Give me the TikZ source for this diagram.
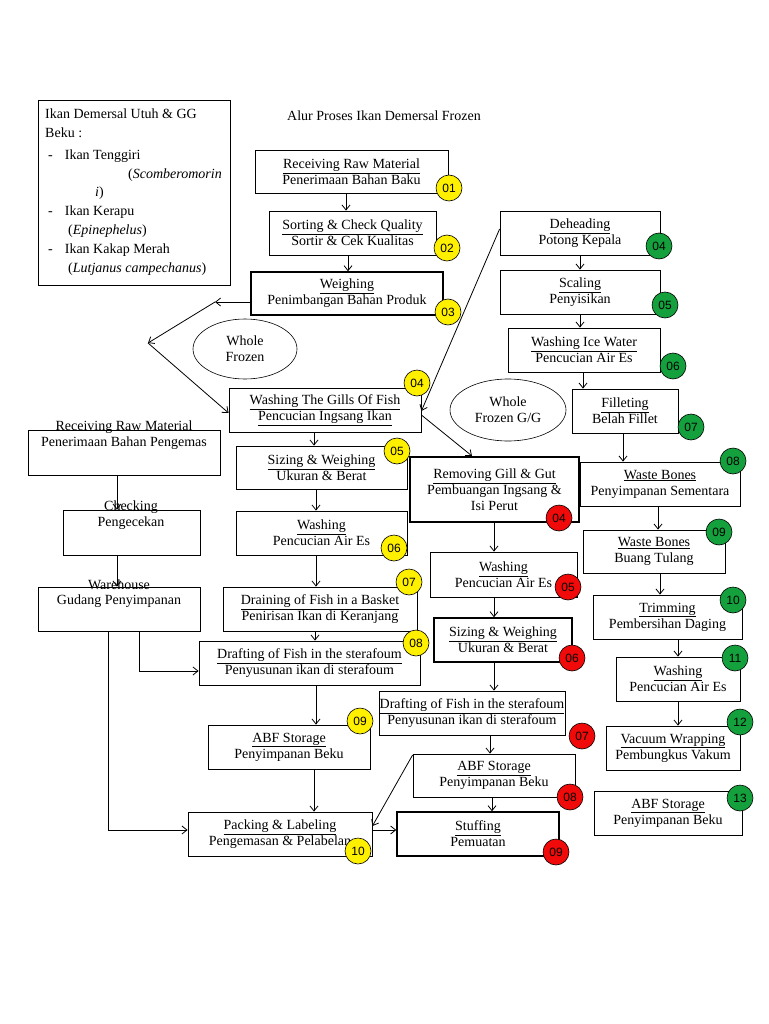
\documentclass[tikz,border=0pt]{standalone}
\usepackage{fontspec}
\setmainfont{Liberation Serif}
\setsansfont{Liberation Sans}
\usetikzlibrary{arrows.meta,shapes.geometric}
\definecolor{yel}{RGB}{255,240,0}
\definecolor{rd}{RGB}{240,10,10}
\definecolor{gr}{RGB}{20,160,60}
\newcommand\BX[7]{\node[box,#7,minimum width={#4pt-#2pt},minimum height={#5pt-#3pt}] (#1) at ({(#2+#4)/2},{(#3+#5)/2}) {#6};}
\newcommand\BG[4]{\node[badge,fill=#2] (#1) at (#3) {#4};}
\begin{document}
\begin{tikzpicture}[x=1pt,y=-1pt,
  box/.style={draw,line width=0.8pt,inner sep=0pt,align=center,font=\fontsize{14}{16}\selectfont},
  thk/.style={line width=1.5pt},
  badge/.style={circle,draw,line width=0.6pt,minimum size=26pt,inner sep=0pt,font=\sffamily\fontsize{12}{12}\selectfont},
  ar/.style={-{Straight Barb[length=5pt,width=8pt]},line width=0.8pt},
  lbl/.style={font=\fontsize{14}{16}\selectfont,inner sep=0pt}]
\useasboundingbox (0,0) rectangle (768,1024);
% legend
\BX{leg}{38}{100}{230}{285}{}{}
\node[lbl,anchor=west] (l1) at (45,114) {Ikan Demersal Utuh \& GG};
\node[lbl,anchor=west] (l2) at (45,133) {Beku :};
\node[lbl,anchor=west] (l3) at (48,156) {-\hspace{12pt}Ikan Tenggiri};
\node[lbl,anchor=east] (l4) at (222,175) {(\textit{Scomberomorin}};
\node[lbl,anchor=west] (l5) at (95,193) {\textit{i})};
\node[lbl,anchor=west] (l6) at (48,212) {-\hspace{12pt}Ikan Kerapu};
\node[lbl,anchor=west] (l7) at (68,231) {(\textit{Epinephelus})};
\node[lbl,anchor=west] (l8) at (48,250) {-\hspace{12pt}Ikan Kakap Merah};
\node[lbl,anchor=west] (l9) at (68,269) {(\textit{Lutjanus campechanus})};
\node[lbl] (title) at (384,116) {Alur Proses Ikan Demersal Frozen};
% yellow column
\BX{y1}{255}{150}{448}{193}{\underline{Receiving Raw Material}\\Penerimaan Bahan Baku}{}
\BX{y2}{269}{211}{436}{255}{\underline{Sorting \& Check Quality}\\Sortir \& Cek Kualitas}{}
\BX{y3}{251}{272}{443}{315}{\underline{Weighing}\\Penimbangan Bahan Produk}{thk}
\BX{y4}{229}{388}{421}{432}{\underline{Washing The Gills Of Fish}\\\underline{Pencucian Ingsang Ikan}}{}
\BX{y5}{236}{446}{407}{489}{\underline{Sizing \& Weighing}\\Ukuran \& Berat}{}
\BX{y6}{236}{511}{407}{555}{\underline{Washing}\\Pencucian Air Es}{}
\BX{y7}{223}{587}{417}{631}{\underline{Draining of Fish in a Basket}\\Penirisan Ikan di Keranjang}{}
\BX{y8}{199}{641}{420}{685}{\underline{Drafting of Fish in the sterafoum}\\Penyusunan ikan di sterafoum}{}
\BX{y9}{208}{725}{370}{769}{\underline{ABF Storage}\\Penyimpanan Beku}{}
\BX{y10}{188}{812}{372}{856}{\underline{Packing \& Labeling}\\Pengemasan \& Pelabelan}{}
\BG{b1}{yel}{449,188}{01}
\BG{b2}{yel}{447,248}{02}
\BG{b3}{yel}{448,312}{03}
\BG{b4}{yel}{417,383}{04}
\BG{b5}{yel}{397,451}{05}
\BG{b6}{yel}{394,548}{06}
\BG{b7}{yel}{409,582}{07}
\BG{b8}{yel}{416,643}{08}
\BG{b9}{yel}{360,721}{09}
\BG{b10}{yel}{358,851}{10}
\node[ellipse,draw,line width=0.6pt,minimum width=104pt,minimum height=60pt,align=center,font=\fontsize{14}{16}\selectfont] (e1) at (245,349) {Whole\\Frozen};
\node[ellipse,draw,line width=0.6pt,minimum width=116pt,minimum height=62pt,align=center,font=\fontsize{14}{16}\selectfont] (e2) at (508,410) {Whole\\Frozen G/G};
% left column
\BX{p1}{28}{430}{220}{475}{}{}
\node[lbl] (p1a) at (124,427) {Receiving Raw Material};
\node[lbl] (p1b) at (124,443) {Penerimaan Bahan Pengemas};
\BX{p2}{63}{510}{200}{555}{}{}
\node[lbl] (p2a) at (131,507) {Checking};
\node[lbl] (p2b) at (131,523) {Pengecekan};
\BX{p3}{38}{587}{200}{631}{}{}
\node[lbl] (p3a) at (119,585) {Warehouse};
\node[lbl] (p3b) at (119,601) {Gudang Penyimpanan};
% red column
\BX{r4}{410}{457}{579}{522}{\underline{Removing Gill \& Gut}\\Pembuangan Ingsang \&\\Isi Perut}{thk}
\BX{r5}{430}{552}{577}{597}{\underline{Washing}\\Pencucian Air Es}{}
\BX{r6}{434}{618}{572}{662}{\underline{Sizing \& Weighing}\\Ukuran \& Berat}{thk}
\BX{r7}{379}{691}{565}{735}{\underline{Drafting of Fish in the sterafoum}\\Penyusunan ikan di sterafoum}{}
\BX{r8}{413}{754}{575}{797}{\underline{ABF Storage}\\Penyimpanan Beku}{}
\BX{r9}{397}{812}{559}{856}{\underline{Stuffing}\\Pemuatan}{thk}
\BG{c4}{rd}{559,518}{04}
\BG{c5}{rd}{568,587}{05}
\BG{c6}{rd}{572,658}{06}
\BG{c7}{rd}{582,736}{07}
\BG{c8}{rd}{570,797}{08}
\BG{c9}{rd}{556,852}{09}
% green column
\BX{g4}{500}{211}{660}{255}{\underline{Deheading}\\Potong Kepala}{}
\BX{g5}{500}{270}{660}{314}{\underline{Scaling}\\Penyisikan}{}
\BX{g6}{508}{328}{660}{372}{\underline{Washing Ice Water}\\Pencucian Air Es}{}
\BX{g7}{572}{389}{678}{433}{\underline{Filleting}\\Belah Fillet}{}
\BX{g8}{580}{462}{740}{506}{\underline{Waste Bones}\\Penyimpanan Sementara}{}
\BX{g9}{583}{530}{725}{573}{\underline{Waste Bones}\\Buang Tulang}{}
\BX{g10}{593}{595}{742}{639}{\underline{Trimming}\\Pembersihan Daging}{}
\BX{g11}{616}{657}{740}{701}{\underline{Washing}\\Pencucian Air Es}{}
\BX{g12}{606}{726}{740}{770}{\underline{Vacuum Wrapping}\\Pembungkus Vakum}{}
\BX{g13}{594}{791}{742}{835}{\underline{ABF Storage}\\Penyimpanan Beku}{}
\BG{d4}{gr}{659,246}{04}
\BG{d5}{gr}{665,305}{05}
\BG{d6}{gr}{673,366}{06}
\BG{d7}{gr}{691,427}{07}
\BG{d8}{gr}{733,461}{08}
\BG{d9}{gr}{719,532}{09}
\BG{d10}{gr}{733,600}{10}
\BG{d11}{gr}{735,658}{11}
\BG{d12}{gr}{740,722}{12}
\BG{d13}{gr}{740,798}{13}
% arrows yellow
\draw[ar] (y1.south-|346,0) -- (y2.north-|346,0);
\draw[ar] (y2.south-|348,0) -- (y3.north-|348,0);
\draw[ar] (y4.south-|314,0) -- (y5.north-|314,0);
\draw[ar] (y5.south-|316,0) -- (y6.north-|316,0);
\draw[ar] (y6.south-|316,0) -- (y7.north-|316,0);
\draw[ar] (y7.south-|315,0) -- (y8.north-|315,0);
\draw[ar] (y8.south-|316,0) -- (y9.north-|316,0);
\draw[ar] (y9.south-|314,0) -- (y10.north-|314,0);
\draw[ar] (y10.east|-0,830) -- (r9.west|-0,830);
\coordinate (k1) at (215,302);
\coordinate (k2) at (148,343);
\draw[ar] (y3.west|-k1) -- (k1);
\draw[ar] (k1) -- (k2);
\draw[ar] (k2) -- (y4.west|-0,413);
\draw[ar] (g4.west|-0,229) -- (y4.east|-0,411);
\draw[ar] (y4.east|-0,415) -- (472,456);
% left arrows
\draw[ar] (p1.south-|117,0) -- (p2.north-|117,0);
\draw[ar] (p2.south-|117,0) -- (p3.north-|117,0);
\draw[ar] (p3.south-|139,0) -- (139,671) -- (y8.west|-0,671);
\draw[ar] (p3.south-|108,0) -- (108,830) -- (y10.west|-0,830);
% red arrows
\draw[ar] (r4.south-|494,0) -- (r5.north-|494,0);
\draw[ar] (r5.south-|494,0) -- (r6.north-|494,0);
\draw[ar] (r6.south-|494,0) -- (r7.north-|494,0);
\draw[ar] (r7.south-|490,0) -- (r8.north-|490,0);
\draw[ar] (r8.south-|492,0) -- (r9.north-|492,0);
\draw[ar] (r8.west|-0,755) -- (y10.east|-0,826);
% green arrows
\draw[ar] (g4.south-|580,0) -- (g5.north-|580,0);
\draw[ar] (g5.south-|580,0) -- (g6.north-|580,0);
\draw[ar] (g6.south-|583,0) -- (g7.north-|583,0);
\draw[ar] (g7.south-|623,0) -- (g8.north-|623,0);
\draw[ar] (g8.south-|658,0) -- (g9.north-|658,0);
\draw[ar] (g9.south-|660,0) -- (g10.north-|660,0);
\draw[ar] (g10.south-|678,0) -- (g11.north-|678,0);
\draw[ar] (g11.south-|678,0) -- (g12.north-|678,0);
\end{tikzpicture}
\end{document}
